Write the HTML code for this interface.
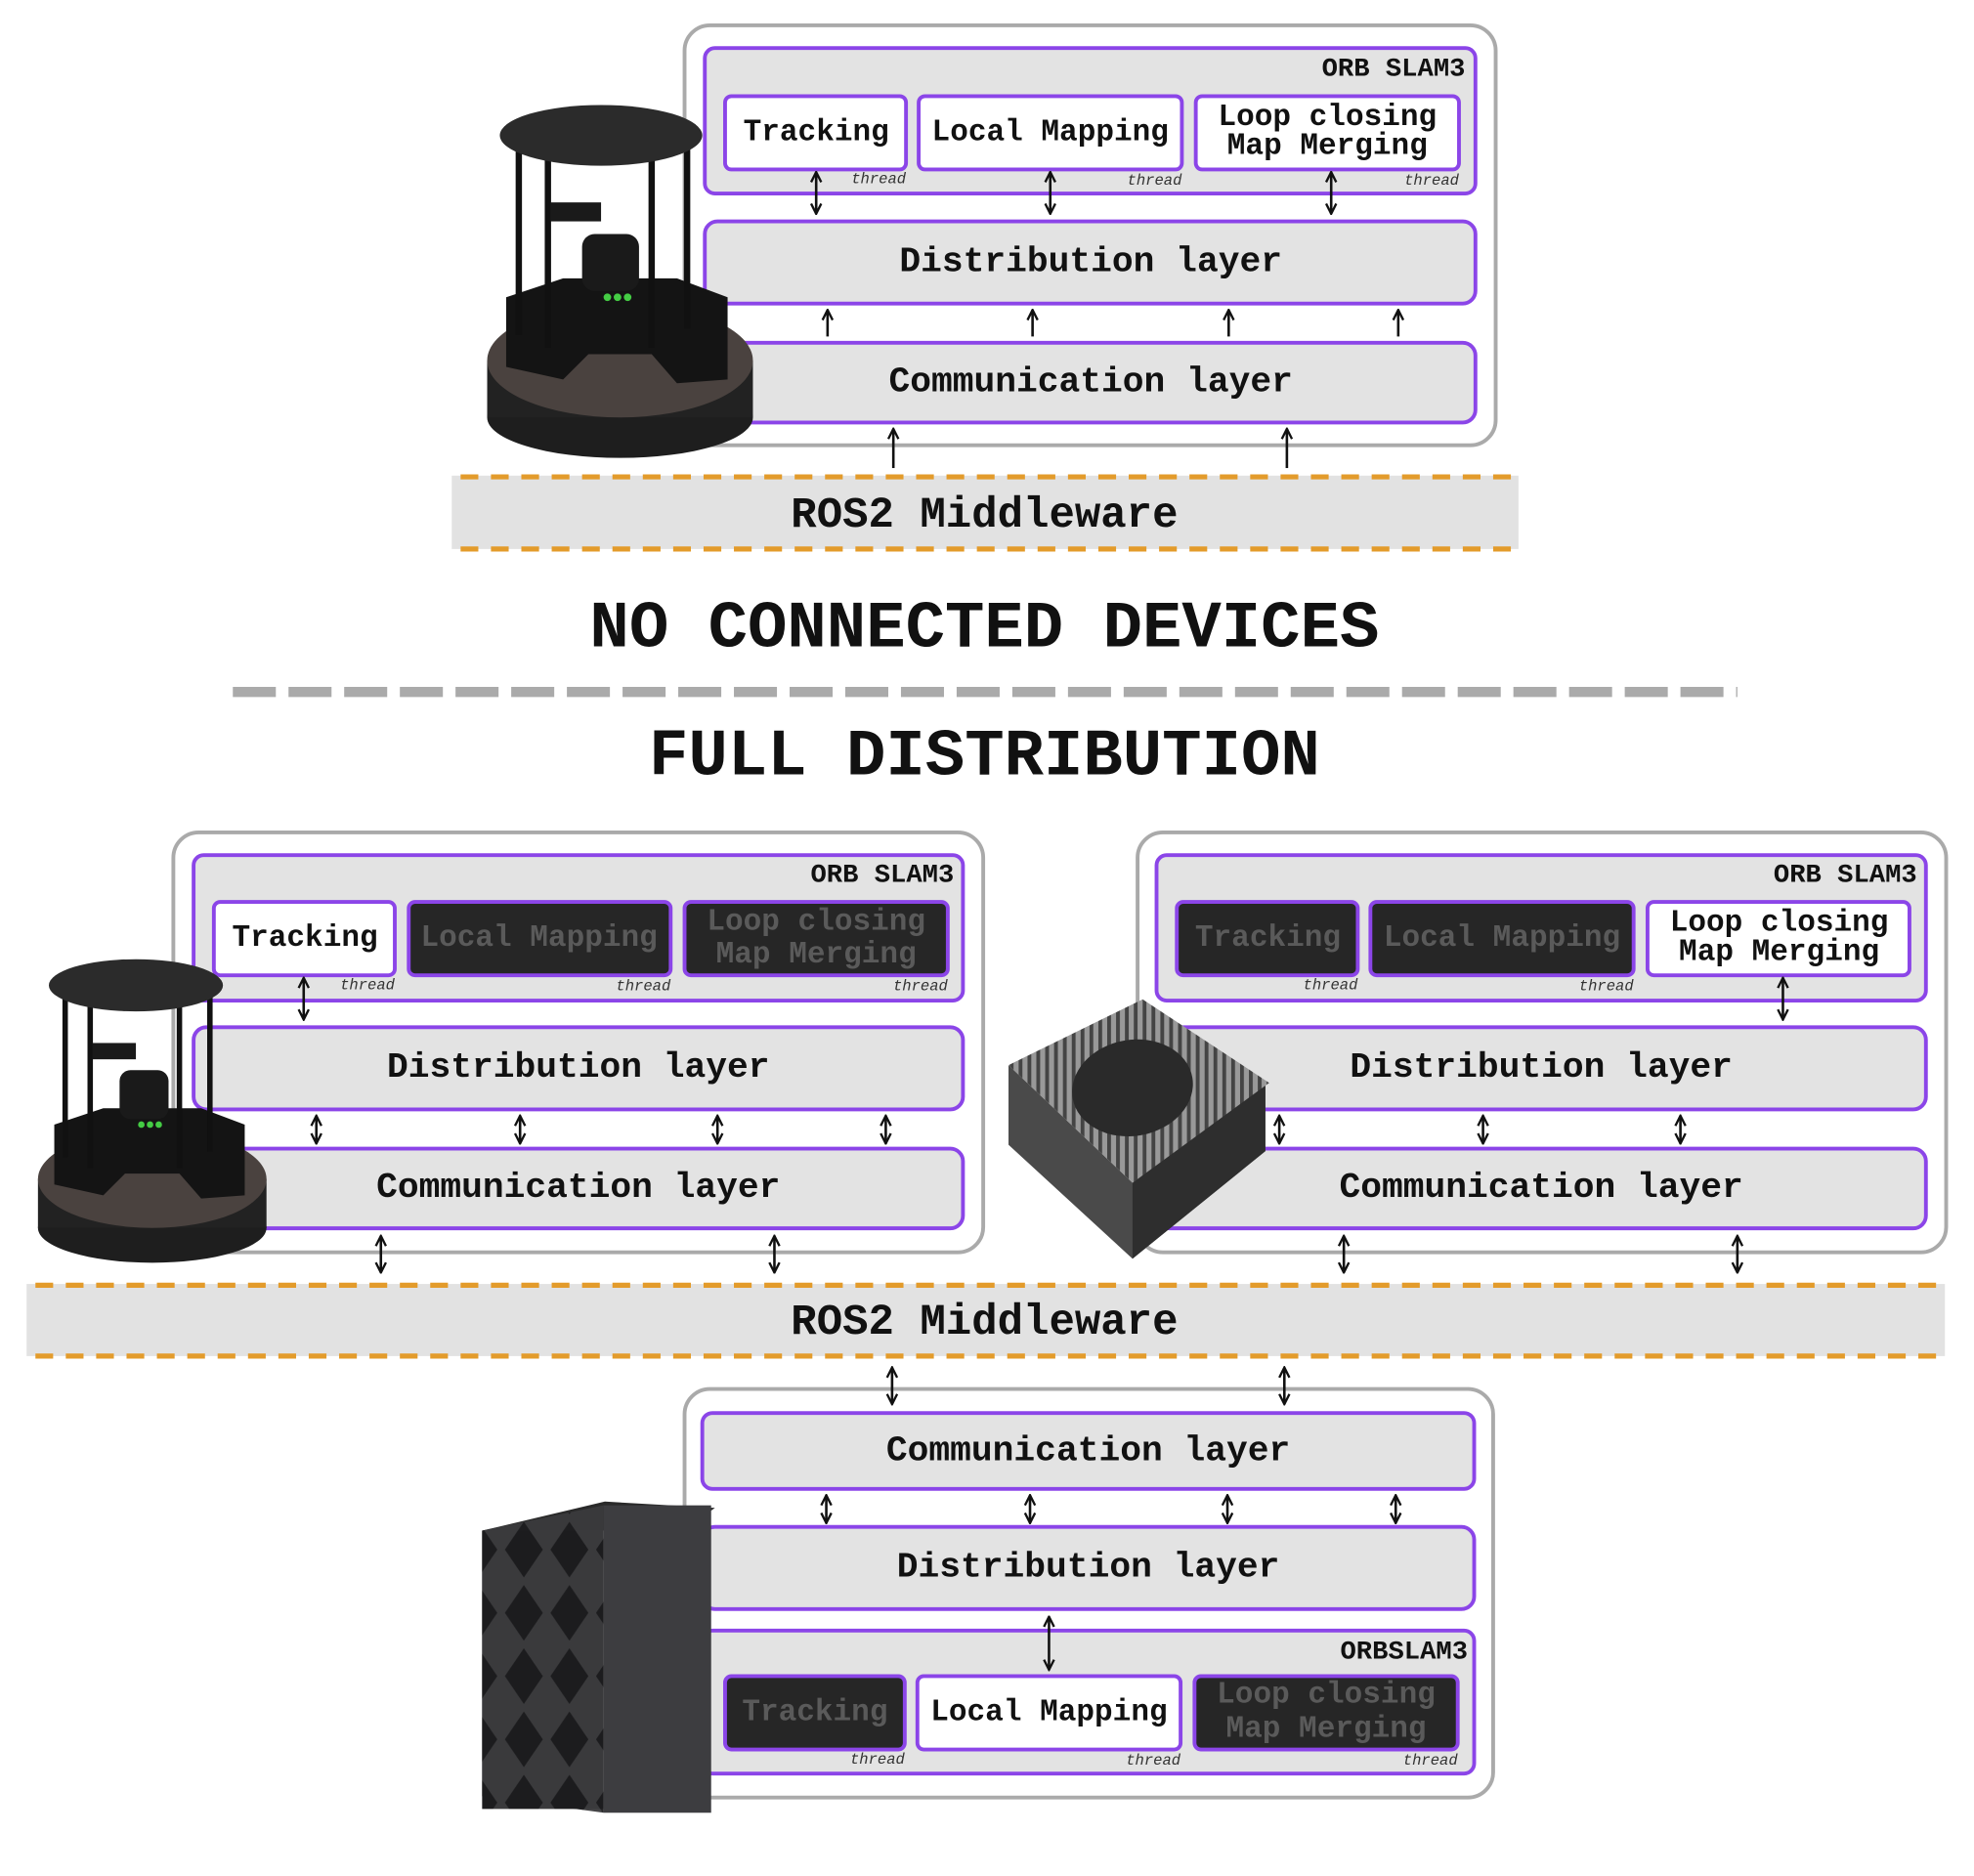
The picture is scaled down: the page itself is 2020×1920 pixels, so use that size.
<!DOCTYPE html>
<html><head><meta charset="utf-8"><style>
html,body{margin:0;padding:0;background:#fff;}
svg{display:block;}
text{font-family:"Liberation Mono",monospace;font-weight:bold;fill:#111;}
.t{font-size:24px;dominant-baseline:central;text-anchor:middle;}
.d{fill:#5a5a5a;}
.big{font-size:28px;dominant-baseline:central;text-anchor:middle;}
.th{font-size:12px;font-style:italic;font-weight:normal;text-anchor:end;fill:#333;}
.orb{font-size:21px;text-anchor:end;dominant-baseline:central;}
.lay{fill:#e3e3e3;stroke:#8b45e8;stroke-width:3;}
.wb{fill:#fff;stroke:#8b45e8;stroke-width:3;}
.db{fill:#262626;stroke:#8b45e8;stroke-width:3;}
.out{fill:#fff;stroke:#aaa;stroke-width:3;}
.ar{stroke:#111;stroke-width:2;fill:none;}
.or{stroke:#e39b2b;stroke-width:4;stroke-dasharray:14 10;}
</style></head><body>
<svg width="2020" height="1920" viewBox="0 0 1560 1483" preserveAspectRatio="none" xmlns="http://www.w3.org/2000/svg">
<defs>
<marker id="a" viewBox="0 0 10 10" refX="9" refY="5" markerWidth="10" markerHeight="10" markerUnits="userSpaceOnUse" orient="auto-start-reverse">
<path d="M1,1 L9,5 L1,9" fill="none" stroke="#111" stroke-width="1.8"/></marker>
<g id="robot">
<ellipse cx="105" cy="245" rx="105" ry="32" fill="#1e1e1e"/>
<rect x="0" y="200" width="210" height="45" fill="#222"/>
<ellipse cx="105" cy="200" rx="105" ry="45" fill="#4a423f"/>
<path d="M15,150 L60,135 L150,135 L190,150 L190,215 L150,218 L130,195 L80,195 L60,215 L15,205 Z" fill="#141414"/>
<rect x="75" y="100" width="45" height="45" rx="10" fill="#1a1a1a"/>
<line x1="25" y1="30" x2="25" y2="180" stroke="#111" stroke-width="5"/>
<line x1="48" y1="35" x2="48" y2="190" stroke="#111" stroke-width="5"/>
<line x1="130" y1="35" x2="130" y2="190" stroke="#111" stroke-width="5"/>
<line x1="158" y1="30" x2="158" y2="175" stroke="#111" stroke-width="5"/>
<rect x="50" y="75" width="40" height="15" fill="#1a1a1a"/>
<ellipse cx="90" cy="22" rx="80" ry="24" fill="#2b2b2b"/>
<circle cx="95" cy="150" r="3" fill="#4c4"/><circle cx="103" cy="150" r="3" fill="#4c4"/><circle cx="111" cy="150" r="3" fill="#4c4"/>
</g>
<pattern id="st" width="7" height="10" patternUnits="userSpaceOnUse"><rect width="7" height="10" fill="#999"/><rect width="3" height="10" fill="#444"/></pattern>
<pattern id="dm" width="36" height="50" patternUnits="userSpaceOnUse"><rect width="36" height="50" fill="#3a3a3c"/><path d="M18,3 L33,25 L18,47 L3,25 Z" fill="#1c1c1e"/></pattern>
</defs>

<!-- TOP -->
<rect class="out" x="541" y="20" width="641" height="332" rx="20"/>
<rect class="lay" x="557" y="38" width="609" height="115" rx="8"/>
<text class="orb" x="1158" y="55">ORB SLAM3</text>
<rect class="wb" x="573" y="76" width="143" height="58" rx="5"/><text class="t" x="645" y="105">Tracking</text>
<rect class="wb" x="726" y="76" width="208" height="58" rx="5"/><text class="t" x="830" y="105">Local Mapping</text>
<rect class="wb" x="945" y="76" width="208" height="58" rx="5"/><text class="t" x="1049" y="93">Loop closing</text><text class="t" x="1049" y="116">Map Merging</text>
<text class="th" x="716" y="145">thread</text><text class="th" x="934" y="146">thread</text><text class="th" x="1153" y="146">thread</text>
<line class="ar" x1="645" y1="136" x2="645" y2="169" marker-start="url(#a)" marker-end="url(#a)"/>
<line class="ar" x1="830" y1="136" x2="830" y2="169" marker-start="url(#a)" marker-end="url(#a)"/>
<line class="ar" x1="1052" y1="136" x2="1052" y2="169" marker-start="url(#a)" marker-end="url(#a)"/>
<rect class="lay" x="557" y="175" width="609" height="65" rx="10"/><text class="big" x="862" y="207">Distribution layer</text>
<line class="ar" x1="654" y1="266" x2="654" y2="245" marker-end="url(#a)"/>
<line class="ar" x1="816" y1="266" x2="816" y2="245" marker-end="url(#a)"/>
<line class="ar" x1="971" y1="266" x2="971" y2="245" marker-end="url(#a)"/>
<line class="ar" x1="1105" y1="266" x2="1105" y2="245" marker-end="url(#a)"/>
<rect class="lay" x="557" y="271" width="609" height="63" rx="10"/><text class="big" x="862" y="302">Communication layer</text>
<use href="#robot" transform="translate(385,85)"/>
<line class="ar" x1="706" y1="370" x2="706" y2="339" marker-end="url(#a)"/>
<line class="ar" x1="1017" y1="370" x2="1017" y2="339" marker-end="url(#a)"/>
<rect x="357" y="376" width="843" height="58" fill="#e2e2e2"/>
<line class="or" x1="364" y1="377" x2="1200" y2="377"/><line class="or" x1="364" y1="434" x2="1200" y2="434"/>
<text x="778" y="408" style="font-size:34px;text-anchor:middle;dominant-baseline:central">ROS2 Middleware</text>

<text x="778" y="498" style="font-size:52px;text-anchor:middle;dominant-baseline:central">NO CONNECTED DEVICES</text>
<line x1="184" y1="547" x2="1373" y2="547" stroke="#aaa" stroke-width="8" stroke-dasharray="34 10"/>
<text x="778" y="599" style="font-size:52px;text-anchor:middle;dominant-baseline:central">FULL DISTRIBUTION</text>

<!-- BOTTOM LEFT -->
<rect class="out" x="137" y="658" width="640" height="332" rx="20"/>
<rect class="lay" x="153" y="676" width="608" height="115" rx="8"/>
<text class="orb" x="754" y="692">ORB SLAM3</text>
<rect class="wb" x="169" y="713" width="143" height="58" rx="5"/><text class="t" x="241" y="742">Tracking</text>
<rect class="db" x="323" y="713" width="207" height="58" rx="5"/><text class="t d" x="426" y="742">Local Mapping</text>
<rect class="db" x="541" y="713" width="208" height="58" rx="5"/><text class="t d" x="645" y="729">Loop closing</text><text class="t d" x="645" y="755">Map Merging</text>
<text class="th" x="312" y="782">thread</text><text class="th" x="530" y="783">thread</text><text class="th" x="749" y="783">thread</text>
<line class="ar" x1="240" y1="773" x2="240" y2="806" marker-start="url(#a)" marker-end="url(#a)"/>
<rect class="lay" x="153" y="812" width="608" height="65" rx="10"/><text class="big" x="457" y="844">Distribution layer</text>
<line class="ar" x1="250" y1="882" x2="250" y2="904" marker-start="url(#a)" marker-end="url(#a)"/>
<line class="ar" x1="411" y1="882" x2="411" y2="904" marker-start="url(#a)" marker-end="url(#a)"/>
<line class="ar" x1="567" y1="882" x2="567" y2="904" marker-start="url(#a)" marker-end="url(#a)"/>
<line class="ar" x1="700" y1="882" x2="700" y2="904" marker-start="url(#a)" marker-end="url(#a)"/>
<rect class="lay" x="153" y="908" width="608" height="63" rx="10"/><text class="big" x="457" y="939">Communication layer</text>
<line class="ar" x1="301" y1="977" x2="301" y2="1006" marker-start="url(#a)" marker-end="url(#a)"/>
<line class="ar" x1="612" y1="977" x2="612" y2="1006" marker-start="url(#a)" marker-end="url(#a)"/>
<use href="#robot" transform="translate(30,760) scale(0.86)"/>

<!-- BOTTOM RIGHT -->
<rect class="out" x="899" y="658" width="639" height="332" rx="20"/>
<rect class="lay" x="914" y="676" width="608" height="115" rx="8"/>
<text class="orb" x="1515" y="692">ORB SLAM3</text>
<rect class="db" x="930" y="713" width="143" height="58" rx="5"/><text class="t d" x="1002" y="742">Tracking</text>
<rect class="db" x="1083" y="713" width="208" height="58" rx="5"/><text class="t d" x="1187" y="742">Local Mapping</text>
<rect class="wb" x="1302" y="713" width="207" height="58" rx="5"/><text class="t" x="1406" y="730">Loop closing</text><text class="t" x="1406" y="753">Map Merging</text>
<text class="th" x="1073" y="782">thread</text><text class="th" x="1291" y="783">thread</text>
<line class="ar" x1="1409" y1="773" x2="1409" y2="806" marker-start="url(#a)" marker-end="url(#a)"/>
<rect class="lay" x="914" y="812" width="608" height="65" rx="10"/><text class="big" x="1218" y="844">Distribution layer</text>
<line class="ar" x1="1011" y1="882" x2="1011" y2="904" marker-start="url(#a)" marker-end="url(#a)"/>
<line class="ar" x1="1172" y1="882" x2="1172" y2="904" marker-start="url(#a)" marker-end="url(#a)"/>
<line class="ar" x1="1328" y1="882" x2="1328" y2="904" marker-start="url(#a)" marker-end="url(#a)"/>
<rect class="lay" x="914" y="908" width="608" height="63" rx="10"/><text class="big" x="1218" y="939">Communication layer</text>
<line class="ar" x1="1062" y1="977" x2="1062" y2="1006" marker-start="url(#a)" marker-end="url(#a)"/>
<line class="ar" x1="1373" y1="977" x2="1373" y2="1006" marker-start="url(#a)" marker-end="url(#a)"/>
<!-- jetson -->
<path d="M797,842 L797,905 L895,995 L1000,910 L1000,855 L895,935 Z" fill="#4a4a4a"/>
<path d="M895,935 L1000,855 L1000,910 L895,995 Z" fill="#2e2e2e"/>
<path d="M797,842 L903,790 L1003,856 L895,935 Z" fill="url(#st)"/>
<ellipse cx="895" cy="860" rx="48" ry="38" fill="#2a2a2a" transform="rotate(-10 895 860)"/>

<!-- ROS2 #2 -->
<rect x="21" y="1015" width="1516" height="57" fill="#e2e2e2"/>
<line class="or" x1="28" y1="1016" x2="1537" y2="1016"/><line class="or" x1="28" y1="1072" x2="1537" y2="1072"/>
<text x="778" y="1046" style="font-size:34px;text-anchor:middle;dominant-baseline:central">ROS2 Middleware</text>

<!-- BOTTOM -->
<rect class="out" x="541" y="1098" width="639" height="323" rx="20"/>
<line class="ar" x1="705" y1="1081" x2="705" y2="1110" marker-start="url(#a)" marker-end="url(#a)"/>
<line class="ar" x1="1015" y1="1081" x2="1015" y2="1110" marker-start="url(#a)" marker-end="url(#a)"/>
<rect class="lay" x="555" y="1117" width="610" height="60" rx="8"/><text class="big" x="860" y="1147">Communication layer</text>
<line class="ar" x1="653" y1="1182" x2="653" y2="1204" marker-start="url(#a)" marker-end="url(#a)"/>
<line class="ar" x1="814" y1="1182" x2="814" y2="1204" marker-start="url(#a)" marker-end="url(#a)"/>
<line class="ar" x1="970" y1="1182" x2="970" y2="1204" marker-start="url(#a)" marker-end="url(#a)"/>
<line class="ar" x1="1103" y1="1182" x2="1103" y2="1204" marker-start="url(#a)" marker-end="url(#a)"/>
<rect class="lay" x="555" y="1207" width="610" height="65" rx="10"/><text class="big" x="860" y="1239">Distribution layer</text>
<rect class="lay" x="555" y="1289" width="610" height="113" rx="8"/>
<line class="ar" x1="829" y1="1278" x2="829" y2="1320" marker-start="url(#a)" marker-end="url(#a)"/>
<text class="orb" x="1160" y="1306">ORBSLAM3</text>
<rect class="db" x="573" y="1325" width="142" height="58" rx="5"/><text class="t d" x="644" y="1354">Tracking</text>
<rect class="wb" x="725" y="1325" width="208" height="58" rx="5"/><text class="t" x="829" y="1354">Local Mapping</text>
<rect class="db" x="944" y="1325" width="208" height="58" rx="5"/><text class="t d" x="1048" y="1340">Loop closing</text><text class="t d" x="1048" y="1367">Map Merging</text>
<text class="th" x="715" y="1394">thread</text><text class="th" x="933" y="1395">thread</text><text class="th" x="1152" y="1395">thread</text>
<!-- PC -->
<path d="M381,1210 L478,1187 L565,1192 L540,1210 Z" fill="#2a2a2a"/>
<rect x="381" y="1210" width="96" height="220" fill="url(#dm)"/>
<rect x="477" y="1190" width="85" height="243" fill="#3d3d40"/>
<path d="M381,1210 L477,1190 L477,1433 L381,1420 Z" fill="url(#dm)" opacity="0.95"/>
</svg>
</body></html>
